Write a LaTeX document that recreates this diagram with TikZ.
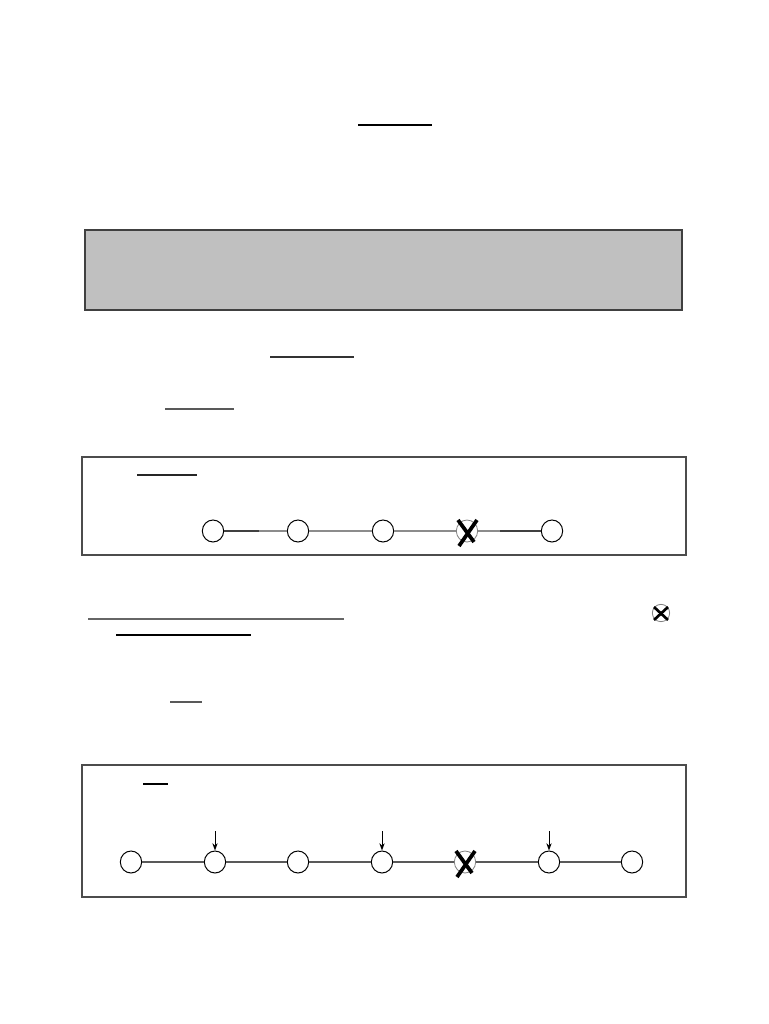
\documentclass[tikz,border=0pt]{standalone}
\usepackage{xcolor}
\usetikzlibrary{shapes.geometric,arrows.meta}
\definecolor{panelgray}{HTML}{C0C0C0}
\tikzset{
  ring/.style={ellipse, draw=black, line width=0.75pt, minimum width=16pt,
    minimum height=16.5pt, inner sep=0pt},
  faded/.style={ring, draw=black!50, line width=0.6pt},
  link/.style={draw=black!45, line width=0.8pt},
  darklink/.style={draw=black!75, line width=0.9pt},
  cross/.style={draw=black, line width=2.8pt},
  rule/.style={draw=black, line width=1pt},
  frame/.style={draw=black!70, line width=0.8pt},
  pin/.style={draw=black, line width=0.7pt, -{Stealth[length=5.5pt,width=4pt]}},
}
\begin{document}
\begin{tikzpicture}[x=0.75pt,y=-0.75pt]
  \useasboundingbox (0,0) rectangle (768,1024);
  % rules standing for headings
  \draw[rule] (358,125) -- (432,125);
  \draw[rule, draw=black!80] (270,357) -- (354,357);
  \draw[rule, draw=black!65] (165,409) -- (234,409);
  \draw[rule, draw=black!60, line width=0.9pt] (88,619) -- (344,619);
  \draw[rule, line width=1.8pt] (116,635) -- (251,635);
  \draw[rule, draw=black!65] (170,702) -- (202,702);

  % grey panel
  \filldraw[fill=panelgray, draw=black!75, line width=1.1pt] (85,230) rectangle (682,310);

  % first chain
  \draw[frame] (82,457) rectangle (686,555);
  \draw[rule, draw=black!85] (137,475) -- (197,475);
  \foreach \i/\x in {1/213,2/298,3/383,5/552} {
    \node[ring] (a\i) at (\x,531) {};
  }
  \node[faded] (a4) at (467,531) {};
  \coordinate (a12) at (259,531);
  \coordinate (a45) at (500,531);
  \draw[darklink] (a1) -- (a12);
  \draw[link] (a12) -- (a2);
  \draw[link] (a2) -- (a3);
  \draw[link] (a3) -- (a4);
  \draw[link] (a4) -- (a45);
  \draw[darklink] (a45) -- (a5);
  \draw[cross] ([shift={(-9,-11)}]a4.center) -- ([shift={(7,11)}]a4.center);
  \draw[cross] ([shift={(10,-11)}]a4.center) -- ([shift={(-8,15)}]a4.center);

  % lone crossed ring
  \node[faded, minimum width=13pt, minimum height=13pt] (mark) at (661,613) {};
  \draw[cross, line width=2pt] ([shift={(-7,-6)}]mark.center) -- ([shift={(7,7)}]mark.center);
  \draw[cross, line width=2pt] ([shift={(7,-6)}]mark.center) -- ([shift={(-7,7)}]mark.center);

  % second chain
  \draw[frame] (82,765) rectangle (686,897);
  \draw[rule] (143,784) -- (168,784);
  \foreach \i/\x in {1/131,2/215,3/298,4/382,6/549,7/632} {
    \node[ring] (b\i) at (\x,862) {};
  }
  \node[faded] (b5) at (465,862) {};
  \foreach \i/\j in {1/2,2/3,3/4,4/5,5/6,6/7} {
    \draw[darklink, draw=black!65] (b\i) -- (b\j);
  }
  \draw[cross] ([shift={(-9,-11)}]b5.center) -- ([shift={(7,11)}]b5.center);
  \draw[cross] ([shift={(10,-11)}]b5.center) -- ([shift={(-8,15)}]b5.center);
  \foreach \i/\x in {2/215,4/382,6/549} {
    \coordinate (t\i) at (\x,831);
    \draw[pin] (t\i) -- (b\i.north);
  }
\end{tikzpicture}
\end{document}
